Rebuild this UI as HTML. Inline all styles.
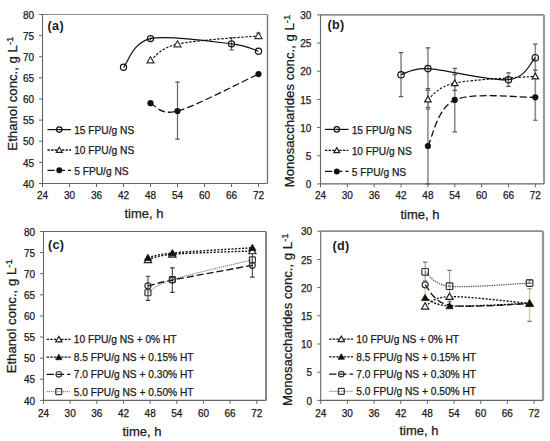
<!DOCTYPE html>
<html><head><meta charset="utf-8"><style>
html,body{margin:0;padding:0;background:#fff;}
body{width:550px;height:441px;overflow:hidden;}
svg{display:block;}
text{font-family:"Liberation Sans",sans-serif;fill:#1a1a1a;stroke:#1a1a1a;stroke-width:0.25px;}
.lt{stroke-width:0;}
.tk{font-size:10px;}
.ti{font-size:13px;}
.lg{font-size:10.2px;}
.lt{font-size:12.6px;font-weight:bold;letter-spacing:0.3px;}
</style></head><body>
<svg width="550" height="441" viewBox="0 0 550 441">
<path d="M42.5 14.5H267.5" fill="none" stroke="#888" stroke-width="1.2"/>
<path d="M267.5 14.5V183.5" fill="none" stroke="#787878" stroke-width="1.4"/>
<path d="M42.5 14.5V183.5H267.5" fill="none" stroke="#666" stroke-width="1.1"/>
<path d="M39 183.5H42.5M39 162.38H42.5M39 141.25H42.5M39 120.12H42.5M39 99H42.5M39 77.88H42.5M39 56.75H42.5M39 35.62H42.5M39 14.5H42.5M42.5 183.5V187M69.5 183.5V187M96.5 183.5V187M123.5 183.5V187M150.5 183.5V187M177.5 183.5V187M204.5 183.5V187M231.5 183.5V187M258.5 183.5V187" stroke="#666" stroke-width="1"/>
<text x="34" y="187.7" text-anchor="end" class="tk">40</text>
<text x="34" y="166.57" text-anchor="end" class="tk">45</text>
<text x="34" y="145.45" text-anchor="end" class="tk">50</text>
<text x="34" y="124.33" text-anchor="end" class="tk">55</text>
<text x="34" y="103.2" text-anchor="end" class="tk">60</text>
<text x="34" y="82.08" text-anchor="end" class="tk">65</text>
<text x="34" y="60.95" text-anchor="end" class="tk">70</text>
<text x="34" y="39.83" text-anchor="end" class="tk">75</text>
<text x="34" y="18.7" text-anchor="end" class="tk">80</text>
<text x="42.5" y="199.4" text-anchor="middle" class="tk">24</text>
<text x="69.5" y="199.4" text-anchor="middle" class="tk">30</text>
<text x="96.5" y="199.4" text-anchor="middle" class="tk">36</text>
<text x="123.5" y="199.4" text-anchor="middle" class="tk">42</text>
<text x="150.5" y="199.4" text-anchor="middle" class="tk">48</text>
<text x="177.5" y="199.4" text-anchor="middle" class="tk">54</text>
<text x="204.5" y="199.4" text-anchor="middle" class="tk">60</text>
<text x="231.5" y="199.4" text-anchor="middle" class="tk">66</text>
<text x="258.5" y="199.4" text-anchor="middle" class="tk">72</text>
<text x="144" y="217.8" text-anchor="middle" class="ti">time, h</text>
<text transform="translate(16.6 93.6) rotate(-90)" text-anchor="middle" class="ti" style="font-size:13.2px">Ethanol conc., g L<tspan dy="-3.9" style="font-size:9.6px">-1</tspan></text>
<text x="47.6" y="29.5" class="lt">(a)</text>
<path d="M177.5 139.14V82.1" stroke="#666" stroke-width="1.2" fill="none"/><path d="M175.3 139.14H179.7M175.3 82.1H179.7" stroke="#555" stroke-width="1.2" fill="none"/>
<path d="M231.5 49.99V37.74" stroke="#666" stroke-width="1.2" fill="none"/><path d="M229.3 49.99H233.7M229.3 37.74H233.7" stroke="#555" stroke-width="1.2" fill="none"/>
<path d="M258.5 38.16V33.09" stroke="#666" stroke-width="1.2" fill="none"/><path d="M256.3 38.16H260.7M256.3 33.09H260.7" stroke="#555" stroke-width="1.2" fill="none"/>
<path d="M150.5 40.69V36.47" stroke="#666" stroke-width="1.2" fill="none"/>
<path d="M123.5 67.31C128 62.52 132.5 42.49 150.5 38.58C168.5 34.67 213.5 41.75 231.5 43.86C249.5 45.98 254 50.03 258.5 51.26" fill="none" stroke="#111" stroke-width="1.2"/>
<path d="M150.5 60.13C155 57.45 159.5 48.12 177.5 44.07C195.5 40.03 245 37.21 258.5 35.84" fill="none" stroke="#111" stroke-width="1.2" stroke-dasharray="2.4 1.6"/>
<path d="M150.5 103.22C155 104.53 159.5 115.9 177.5 111.04C195.5 106.18 245 80.23 258.5 74.07" fill="none" stroke="#111" stroke-width="1.3" stroke-dasharray="7 3"/>
<circle cx="123.5" cy="67.31" r="3.1" fill="none" stroke="#111" stroke-width="1.2"/>
<circle cx="150.5" cy="38.58" r="3.1" fill="none" stroke="#111" stroke-width="1.2"/>
<circle cx="231.5" cy="43.86" r="3.1" fill="none" stroke="#111" stroke-width="1.2"/>
<circle cx="258.5" cy="51.26" r="3.1" fill="none" stroke="#111" stroke-width="1.2"/>
<path d="M150.5 56.79L154.02 62.87H146.98Z" fill="#fff" stroke="#333" stroke-width="1.2" stroke-linejoin="miter"/>
<path d="M177.5 40.73L181.02 46.81H173.98Z" fill="#fff" stroke="#333" stroke-width="1.2" stroke-linejoin="miter"/>
<path d="M258.5 32.49L262.02 38.57H254.98Z" fill="#fff" stroke="#333" stroke-width="1.2" stroke-linejoin="miter"/>
<circle cx="150.5" cy="103.22" r="3.1" fill="#111" stroke="none"/>
<circle cx="177.5" cy="111.04" r="3.1" fill="#111" stroke="none"/>
<circle cx="258.5" cy="74.07" r="3.1" fill="#111" stroke="none"/>
<path d="M47.5 129.6H71" stroke="#111" stroke-width="1.2"/>
<circle cx="59.3" cy="129.6" r="2.7" fill="none" stroke="#111" stroke-width="1.2"/>
<path d="M47.5 150H71" stroke="#111" stroke-width="1.3" stroke-dasharray="2.4 1.2"/>
<path d="M59.3 147.18L62.27 152.31H56.33Z" fill="#fff" stroke="#222" stroke-width="1.2" stroke-linejoin="miter"/>
<path d="M47.5 170.3H71" stroke="#111" stroke-width="1.3" stroke-dasharray="7.2 3"/>
<circle cx="59.3" cy="170.3" r="3" fill="#111" stroke="none"/>
<text x="74.2" y="133.8" class="lg">15 FPU/g NS</text>
<text x="74.2" y="154.2" class="lg">10 FPU/g NS</text>
<text x="74.2" y="174.5" class="lg">5 FPU/g NS</text>
<path d="M320.5 14.9H544" fill="none" stroke="#909090" stroke-width="1.6"/>
<path d="M544 14.9V183.9" fill="none" stroke="#9a9a9a" stroke-width="2.2"/>
<path d="M320.5 14.9V183.9H544" fill="none" stroke="#666" stroke-width="1.1"/>
<path d="M317 183.9H320.5M317 155.73H320.5M317 127.57H320.5M317 99.4H320.5M317 71.23H320.5M317 43.07H320.5M317 14.9H320.5M320.5 183.9V187.4M347.35 183.9V187.4M374.2 183.9V187.4M401.05 183.9V187.4M427.9 183.9V187.4M454.75 183.9V187.4M481.6 183.9V187.4M508.45 183.9V187.4M535.3 183.9V187.4" stroke="#666" stroke-width="1"/>
<text x="311.4" y="188.1" text-anchor="end" class="tk">0</text>
<text x="311.4" y="159.93" text-anchor="end" class="tk">5</text>
<text x="311.4" y="131.77" text-anchor="end" class="tk">10</text>
<text x="311.4" y="103.6" text-anchor="end" class="tk">15</text>
<text x="311.4" y="75.43" text-anchor="end" class="tk">20</text>
<text x="311.4" y="47.27" text-anchor="end" class="tk">25</text>
<text x="311.4" y="19.1" text-anchor="end" class="tk">30</text>
<text x="320.5" y="199.3" text-anchor="middle" class="tk">24</text>
<text x="347.35" y="199.3" text-anchor="middle" class="tk">30</text>
<text x="374.2" y="199.3" text-anchor="middle" class="tk">36</text>
<text x="401.05" y="199.3" text-anchor="middle" class="tk">42</text>
<text x="427.9" y="199.3" text-anchor="middle" class="tk">48</text>
<text x="454.75" y="199.3" text-anchor="middle" class="tk">54</text>
<text x="481.6" y="199.3" text-anchor="middle" class="tk">60</text>
<text x="508.45" y="199.3" text-anchor="middle" class="tk">66</text>
<text x="535.3" y="199.3" text-anchor="middle" class="tk">72</text>
<text x="420" y="218.9" text-anchor="middle" class="ti">time, h</text>
<text transform="translate(293.9 101) rotate(-90)" text-anchor="middle" class="ti" style="font-size:13.2px">Monosaccharides conc., g L<tspan dy="-3.9" style="font-size:9.6px">-1</tspan></text>
<text x="327.6" y="29.1" class="lt">(b)</text>
<path d="M401.05 96.58V52.64" stroke="#8c8c8c" stroke-width="1.6" fill="none"/><path d="M398.85 96.58H403.25M398.85 52.64H403.25" stroke="#555" stroke-width="1.2" fill="none"/>
<path d="M427.9 183.9V47.86" stroke="#8c8c8c" stroke-width="1.6" fill="none"/><path d="M425.7 183.9H430.1M425.7 47.86H430.1" stroke="#555" stroke-width="1.2" fill="none"/>
<path d="M427.9 107.29V90.39" stroke="#8c8c8c" stroke-width="1.6" fill="none"/><path d="M425.7 107.29H430.1M425.7 90.39H430.1" stroke="#555" stroke-width="1.2" fill="none"/>
<path d="M454.75 131.79V68.42" stroke="#8c8c8c" stroke-width="1.6" fill="none"/><path d="M452.55 131.79H456.95M452.55 68.42H456.95" stroke="#555" stroke-width="1.2" fill="none"/>
<path d="M454.75 90.39V74.61" stroke="#8c8c8c" stroke-width="1.6" fill="none"/><path d="M452.55 90.39H456.95M452.55 74.61H456.95" stroke="#555" stroke-width="1.2" fill="none"/>
<path d="M427.9 108.98V88.7" stroke="#8c8c8c" stroke-width="1.6" fill="none"/><path d="M425.7 108.98H430.1M425.7 88.7H430.1" stroke="#555" stroke-width="1.2" fill="none"/>
<path d="M508.45 86.44V72.92" stroke="#8c8c8c" stroke-width="1.6" fill="none"/><path d="M506.25 86.44H510.65M506.25 72.92H510.65" stroke="#555" stroke-width="1.2" fill="none"/>
<path d="M535.3 120.24V44.19" stroke="#8c8c8c" stroke-width="1.6" fill="none"/><path d="M533.1 120.24H537.5M533.1 44.19H537.5" stroke="#555" stroke-width="1.2" fill="none"/>
<path d="M535.3 76.3V70.11" stroke="#8c8c8c" stroke-width="1.6" fill="none"/><path d="M533.1 76.3H537.5M533.1 70.11H537.5" stroke="#555" stroke-width="1.2" fill="none"/>
<path d="M401.05 74.78C405.52 73.75 410 67.77 427.9 68.59C445.8 69.4 490.55 81.5 508.45 79.68C526.35 77.87 530.82 61.38 535.3 57.71" fill="none" stroke="#111" stroke-width="1.2"/>
<path d="M427.9 99.4C432.38 96.68 436.85 86.91 454.75 83.06C472.65 79.21 521.88 77.43 535.3 76.3" fill="none" stroke="#111" stroke-width="1.2" stroke-dasharray="2.4 1.6"/>
<path d="M427.9 145.99C432.38 138.32 436.85 108.08 454.75 99.96C472.65 91.85 521.88 97.76 535.3 97.32" fill="none" stroke="#111" stroke-width="1.3" stroke-dasharray="7 3"/>
<circle cx="401.05" cy="74.78" r="3.2" fill="none" stroke="#111" stroke-width="1.2"/>
<circle cx="427.9" cy="68.59" r="3.2" fill="none" stroke="#111" stroke-width="1.2"/>
<circle cx="508.45" cy="79.68" r="3.2" fill="none" stroke="#111" stroke-width="1.2"/>
<circle cx="535.3" cy="57.71" r="3.2" fill="none" stroke="#111" stroke-width="1.2"/>
<path d="M427.9 96.32L431.14 101.92H424.65Z" fill="#fff" stroke="#222" stroke-width="1.2" stroke-linejoin="miter"/>
<path d="M454.75 79.98L458 85.59H451.5Z" fill="#fff" stroke="#222" stroke-width="1.2" stroke-linejoin="miter"/>
<path d="M535.3 73.22L538.54 78.83H532.05Z" fill="#fff" stroke="#222" stroke-width="1.2" stroke-linejoin="miter"/>
<circle cx="427.9" cy="145.99" r="3.1" fill="#111" stroke="none"/>
<circle cx="454.75" cy="99.96" r="3.1" fill="#111" stroke="none"/>
<circle cx="535.3" cy="97.32" r="3.1" fill="#111" stroke="none"/>
<path d="M325 129.4H348.5" stroke="#111" stroke-width="1.2"/>
<circle cx="336.8" cy="129.4" r="2.7" fill="none" stroke="#111" stroke-width="1.2"/>
<path d="M325 150.4H348.5" stroke="#111" stroke-width="1.3" stroke-dasharray="2.4 1.2"/>
<path d="M336.8 147.58L339.77 152.71H333.83Z" fill="#fff" stroke="#222" stroke-width="1.2" stroke-linejoin="miter"/>
<path d="M325 171.4H348.5" stroke="#111" stroke-width="1.3" stroke-dasharray="7.2 3"/>
<circle cx="336.8" cy="171.4" r="3" fill="#111" stroke="none"/>
<text x="351.7" y="133.6" class="lg">15 FPU/g NS</text>
<text x="351.7" y="154.6" class="lg">10 FPU/g NS</text>
<text x="351.7" y="175.6" class="lg">5 FPU/g NS</text>
<path d="M43.5 231.5H266" fill="none" stroke="#676767" stroke-width="1.2"/>
<path d="M266 231.5V400.4" fill="none" stroke="#888" stroke-width="2.0"/>
<path d="M43.5 231.5V400.4H266" fill="none" stroke="#666" stroke-width="1.1"/>
<path d="M40 400.4H43.5M40 379.29H43.5M40 358.17H43.5M40 337.06H43.5M40 315.95H43.5M40 294.84H43.5M40 273.73H43.5M40 252.61H43.5M40 231.5H43.5M43.5 400.4V403.9M70.16 400.4V403.9M96.83 400.4V403.9M123.49 400.4V403.9M150.15 400.4V403.9M176.81 400.4V403.9M203.48 400.4V403.9M230.14 400.4V403.9M256.8 400.4V403.9" stroke="#666" stroke-width="1"/>
<text x="35" y="404.6" text-anchor="end" class="tk">40</text>
<text x="35" y="383.49" text-anchor="end" class="tk">45</text>
<text x="35" y="362.37" text-anchor="end" class="tk">50</text>
<text x="35" y="341.26" text-anchor="end" class="tk">55</text>
<text x="35" y="320.15" text-anchor="end" class="tk">60</text>
<text x="35" y="299.04" text-anchor="end" class="tk">65</text>
<text x="35" y="277.93" text-anchor="end" class="tk">70</text>
<text x="35" y="256.81" text-anchor="end" class="tk">75</text>
<text x="35" y="235.7" text-anchor="end" class="tk">80</text>
<text x="43.5" y="416.5" text-anchor="middle" class="tk">24</text>
<text x="70.16" y="416.5" text-anchor="middle" class="tk">30</text>
<text x="96.83" y="416.5" text-anchor="middle" class="tk">36</text>
<text x="123.49" y="416.5" text-anchor="middle" class="tk">42</text>
<text x="150.15" y="416.5" text-anchor="middle" class="tk">48</text>
<text x="176.81" y="416.5" text-anchor="middle" class="tk">54</text>
<text x="203.48" y="416.5" text-anchor="middle" class="tk">60</text>
<text x="230.14" y="416.5" text-anchor="middle" class="tk">66</text>
<text x="256.8" y="416.5" text-anchor="middle" class="tk">72</text>
<text x="142" y="435.6" text-anchor="middle" class="ti">time, h</text>
<text transform="translate(15.7 316.3) rotate(-90)" text-anchor="middle" class="ti" style="font-size:13.2px">Ethanol conc., g L<tspan dy="-3.9" style="font-size:9.6px">-1</tspan></text>
<text x="47.9" y="248.8" class="lt">(c)</text>
<path d="M147.93 300.33V276.26" stroke="#555" stroke-width="1.2" fill="none"/><path d="M145.73 300.33H150.13M145.73 276.26H150.13" stroke="#383838" stroke-width="1.2" fill="none"/>
<path d="M172.37 292.3V267.81" stroke="#555" stroke-width="1.2" fill="none"/><path d="M170.17 292.3H174.57M170.17 267.81H174.57" stroke="#383838" stroke-width="1.2" fill="none"/>
<path d="M252.36 277.1V252.61" stroke="#555" stroke-width="1.2" fill="none"/><path d="M250.16 277.1H254.56M250.16 252.61H254.56" stroke="#383838" stroke-width="1.2" fill="none"/>
<path d="M147.93 292.73C152 290.54 154.96 285.13 172.37 279.64C189.77 274.15 239.03 263.1 252.36 259.79" fill="none" stroke="#707070" stroke-width="1.0" stroke-dasharray="1.2 0.8"/>
<path d="M147.93 285.97C152 284.99 154.96 283.51 172.37 280.06C189.77 276.61 239.03 267.74 252.36 265.28" fill="none" stroke="#111" stroke-width="1.3" stroke-dasharray="7 3"/>
<path d="M147.93 259.79C152 258.88 154.96 255.78 172.37 254.3C189.77 252.82 239.03 251.49 252.36 250.92" fill="none" stroke="#111" stroke-width="1.4" stroke-dasharray="2 1.5"/>
<path d="M147.93 257.68C152 256.91 154.96 254.69 172.37 253.03C189.77 251.38 239.03 248.64 252.36 247.76" fill="none" stroke="#111" stroke-width="1.4" stroke-dasharray="2 1.5"/>
<rect x="144.93" y="289.73" width="6" height="6" rx="0.8" fill="none" stroke="#333" stroke-width="1.2"/>
<rect x="169.37" y="276.64" width="6" height="6" rx="0.8" fill="none" stroke="#333" stroke-width="1.2"/>
<rect x="249.36" y="256.79" width="6" height="6" rx="0.8" fill="none" stroke="#333" stroke-width="1.2"/>
<circle cx="147.93" cy="285.97" r="3" fill="none" stroke="#333" stroke-width="1.2"/>
<circle cx="172.37" cy="280.06" r="3" fill="none" stroke="#333" stroke-width="1.2"/>
<circle cx="252.36" cy="265.28" r="3" fill="none" stroke="#333" stroke-width="1.2"/>
<path d="M147.93 256.34L151.56 262.61H144.3Z" fill="#fff" stroke="#222" stroke-width="1.2" stroke-linejoin="miter"/>
<path d="M172.37 250.85L176 257.12H168.74Z" fill="#fff" stroke="#222" stroke-width="1.2" stroke-linejoin="miter"/>
<path d="M252.36 247.47L255.99 253.74H248.73Z" fill="#fff" stroke="#222" stroke-width="1.2" stroke-linejoin="miter"/>
<path d="M147.93 254.23L151.56 260.5H144.3Z" fill="#111" stroke="#111" stroke-width="0.72"/>
<path d="M172.37 249.59L176 255.86H168.74Z" fill="#111" stroke="#111" stroke-width="0.72"/>
<path d="M252.36 244.31L255.99 250.58H248.73Z" fill="#111" stroke="#111" stroke-width="0.72"/>
<path d="M46.7 339.4H70.5" stroke="#111" stroke-width="1.3" stroke-dasharray="2.4 1.2"/>
<path d="M58.8 336.37L61.99 341.88H55.61Z" fill="#fff" stroke="#222" stroke-width="1.2" stroke-linejoin="miter"/>
<path d="M46.7 357.2H70.5" stroke="#111" stroke-width="1.3" stroke-dasharray="2.4 1.2"/>
<path d="M58.8 354.17L61.99 359.68H55.61Z" fill="#111" stroke="#111" stroke-width="0.72"/>
<path d="M46.7 374.3H70.5" stroke="#111" stroke-width="1.3" stroke-dasharray="7.2 3"/>
<circle cx="58.8" cy="374.3" r="2.8" fill="none" stroke="#333" stroke-width="1.2"/>
<path d="M46.7 391.7H70.5" stroke="#8a8a8a" stroke-width="1.2" stroke-dasharray="1.2 0.8"/>
<rect x="55.8" y="388.7" width="6" height="6" rx="0.8" fill="none" stroke="#333" stroke-width="1.2"/>
<text x="73.8" y="343.2" class="lg">10 FPU/g NS + 0% HT</text>
<text x="73.8" y="361" class="lg">8.5 FPU/g NS + 0.15% HT</text>
<text x="73.8" y="378.1" class="lg">7.0 FPU/g NS + 0.30% HT</text>
<text x="73.8" y="395.5" class="lg">5.0 FPU/g NS + 0.50% HT</text>
<path d="M320.7 231.2H543" fill="none" stroke="#8e8e8e" stroke-width="1.8"/>
<path d="M543 231.2V400.4" fill="none" stroke="#959595" stroke-width="2.2"/>
<path d="M320.7 231.2V400.4H543" fill="none" stroke="#666" stroke-width="1.1"/>
<path d="M317.2 400.4H320.7M317.2 372.2H320.7M317.2 344H320.7M317.2 315.8H320.7M317.2 287.6H320.7M317.2 259.4H320.7M317.2 231.2H320.7M320.7 400.4V403.9M347.36 400.4V403.9M374.02 400.4V403.9M400.69 400.4V403.9M427.35 400.4V403.9M454.01 400.4V403.9M480.68 400.4V403.9M507.34 400.4V403.9M534 400.4V403.9" stroke="#666" stroke-width="1"/>
<text x="312" y="404.6" text-anchor="end" class="tk">0</text>
<text x="312" y="376.4" text-anchor="end" class="tk">5</text>
<text x="312" y="348.2" text-anchor="end" class="tk">10</text>
<text x="312" y="320" text-anchor="end" class="tk">15</text>
<text x="312" y="291.8" text-anchor="end" class="tk">20</text>
<text x="312" y="263.6" text-anchor="end" class="tk">25</text>
<text x="312" y="235.4" text-anchor="end" class="tk">30</text>
<text x="320.7" y="416.5" text-anchor="middle" class="tk">24</text>
<text x="347.36" y="416.5" text-anchor="middle" class="tk">30</text>
<text x="374.02" y="416.5" text-anchor="middle" class="tk">36</text>
<text x="400.69" y="416.5" text-anchor="middle" class="tk">42</text>
<text x="427.35" y="416.5" text-anchor="middle" class="tk">48</text>
<text x="454.01" y="416.5" text-anchor="middle" class="tk">54</text>
<text x="480.68" y="416.5" text-anchor="middle" class="tk">60</text>
<text x="507.34" y="416.5" text-anchor="middle" class="tk">66</text>
<text x="534" y="416.5" text-anchor="middle" class="tk">72</text>
<text x="419" y="435.1" text-anchor="middle" class="ti">time, h</text>
<text transform="translate(291.8 319.7) rotate(-90)" text-anchor="middle" class="ti" style="font-size:13.2px">Monosaccharides conc., g L<tspan dy="-3.9" style="font-size:9.6px">-1</tspan></text>
<text x="332.4" y="249.6" class="lt">(d)</text>
<path d="M425.13 280.83V262.22" stroke="#a8a8a8" stroke-width="1.3" fill="none"/><path d="M422.93 280.83H427.33M422.93 262.22H427.33" stroke="#777" stroke-width="1.2" fill="none"/>
<path d="M425.13 295.5V288.16" stroke="#b9d98a" stroke-width="1.3" fill="none"/>
<path d="M449.57 301.7V270.29" stroke="#a8a8a8" stroke-width="1.3" fill="none"/><path d="M447.37 301.7H451.77M447.37 270.29H451.77" stroke="#777" stroke-width="1.2" fill="none"/>
<path d="M529.56 283.09V279.7" stroke="#a8a8a8" stroke-width="1.3" fill="none"/><path d="M527.36 283.09H531.76M527.36 279.7H531.76" stroke="#777" stroke-width="1.2" fill="none"/>
<path d="M529.56 321.44V288.73" stroke="#b9d98a" stroke-width="1.3" fill="none"/><path d="M527.36 321.44H531.76M527.36 288.73H531.76" stroke="#777" stroke-width="1.2" fill="none"/>
<path d="M425.13 271.81C429.2 274.2 432.16 284.31 449.57 286.19C466.97 288.07 516.23 283.6 529.56 283.09" fill="none" stroke="#555" stroke-width="1.3" stroke-dasharray="1.3 1"/>
<path d="M425.13 284.78C429.2 288.16 432.16 301.94 449.57 305.08C466.97 308.23 516.23 303.91 529.56 303.67" fill="none" stroke="#111" stroke-width="1.3" stroke-dasharray="7 3"/>
<path d="M425.13 306.21C429.2 304.61 432.16 297.09 449.57 296.62C466.97 296.15 516.23 302.26 529.56 303.39" fill="none" stroke="#111" stroke-width="1.4" stroke-dasharray="2 1.5"/>
<path d="M425.13 297.75C429.2 299.12 432.16 304.99 449.57 305.93C466.97 306.87 516.23 303.81 529.56 303.39" fill="none" stroke="#111" stroke-width="1.4" stroke-dasharray="2 1.5"/>
<rect x="421.83" y="268.51" width="6.6" height="6.6" rx="0.8" fill="none" stroke="#333" stroke-width="1.2"/>
<rect x="446.27" y="282.89" width="6.6" height="6.6" rx="0.8" fill="none" stroke="#333" stroke-width="1.2"/>
<rect x="526.26" y="279.79" width="6.6" height="6.6" rx="0.8" fill="none" stroke="#333" stroke-width="1.2"/>
<circle cx="425.13" cy="284.78" r="3" fill="none" stroke="#333" stroke-width="1.2"/>
<path d="M425.13 302.76L428.76 309.03H421.5Z" fill="#fff" stroke="#222" stroke-width="1.2" stroke-linejoin="miter"/>
<path d="M449.57 293.18L453.2 299.45H445.94Z" fill="#fff" stroke="#222" stroke-width="1.2" stroke-linejoin="miter"/>
<path d="M529.56 299.94L533.19 306.21H525.93Z" fill="#fff" stroke="#222" stroke-width="1.2" stroke-linejoin="miter"/>
<path d="M425.13 294.3L428.76 300.57H421.5Z" fill="#111" stroke="#111" stroke-width="0.72"/>
<path d="M449.57 302.48L453.2 308.75H445.94Z" fill="#111" stroke="#111" stroke-width="0.72"/>
<path d="M529.56 299.94L533.19 306.21H525.93Z" fill="#111" stroke="#111" stroke-width="0.72"/>
<path d="M329.2 339.2H353" stroke="#111" stroke-width="1.3" stroke-dasharray="2.4 1.2"/>
<path d="M341.3 336.17L344.49 341.68H338.11Z" fill="#fff" stroke="#222" stroke-width="1.2" stroke-linejoin="miter"/>
<path d="M329.2 356.8H353" stroke="#111" stroke-width="1.3" stroke-dasharray="2.4 1.2"/>
<path d="M341.3 353.77L344.49 359.28H338.11Z" fill="#111" stroke="#111" stroke-width="0.72"/>
<path d="M329.2 374.1H353" stroke="#111" stroke-width="1.3" stroke-dasharray="7.2 3"/>
<circle cx="341.3" cy="374.1" r="2.8" fill="none" stroke="#333" stroke-width="1.2"/>
<path d="M329.2 391.4H353" stroke="#8a8a8a" stroke-width="1.2" stroke-dasharray="1.2 0.8"/>
<rect x="338.3" y="388.4" width="6" height="6" rx="0.8" fill="none" stroke="#333" stroke-width="1.2"/>
<text x="356.3" y="343" class="lg">10 FPU/g NS + 0% HT</text>
<text x="356.3" y="360.6" class="lg">8.5 FPU/g NS + 0.15% HT</text>
<text x="356.3" y="377.9" class="lg">7.0 FPU/g NS + 0.30% HT</text>
<text x="356.3" y="395.2" class="lg">5.0 FPU/g NS + 0.50% HT</text>
</svg></body></html>
